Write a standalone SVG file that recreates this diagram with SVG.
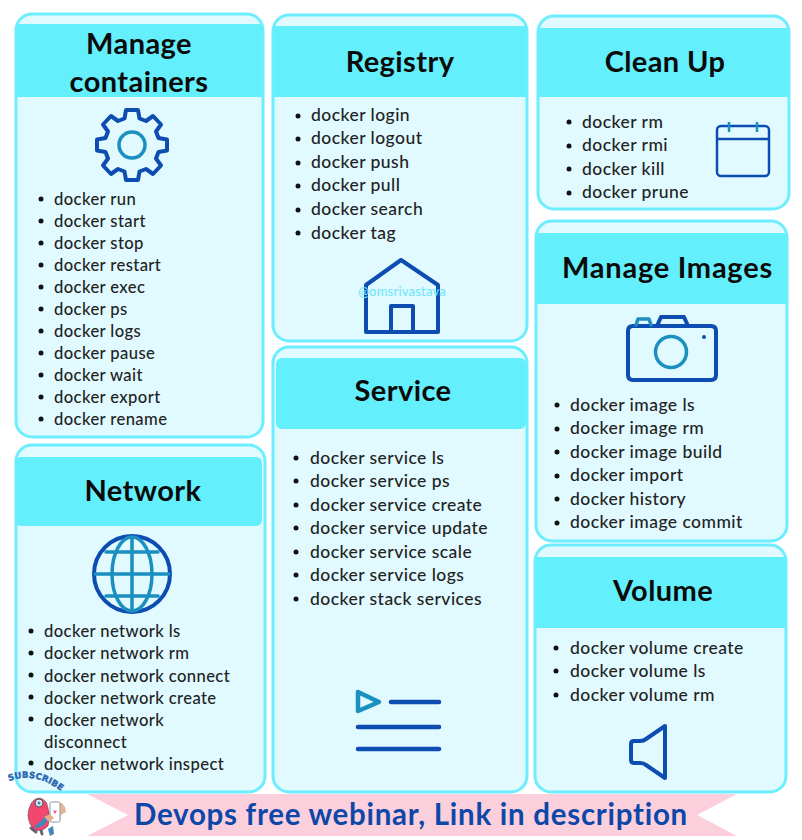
<svg xmlns="http://www.w3.org/2000/svg" xmlns:xlink="http://www.w3.org/1999/xlink" width="802" height="840" viewBox="0 0 802 840">
<style>
.p{fill:#e0faff;stroke:#6ceefe;stroke-width:3}
.h{fill:#64effc}
.t{font-family:"Lato","Liberation Sans",sans-serif;font-weight:700;font-size:29px;fill:#0b0b0b;text-anchor:middle;letter-spacing:.4px}
.l{font-family:"Lato","Liberation Sans",sans-serif;font-weight:500;font-size:17.5px;fill:#222;letter-spacing:.45px}
.s{font-family:"Lato","Liberation Sans",sans-serif;font-weight:500;font-size:16.6px;fill:#222;letter-spacing:.4px}
.b{fill:#111}
.i1{fill:none;stroke:#0d4cb0;stroke-width:4;stroke-linejoin:round;stroke-linecap:round}
.i2{fill:none;stroke:#1b8fbf;stroke-width:3.5;stroke-linejoin:round;stroke-linecap:round}
</style>
<defs><path id="arc" d="M9 781Q38 770 67 796"/></defs>
<rect width="802" height="840" fill="#fff"/>

<g id="manage-containers">
<rect class="p" x="16" y="14" width="247" height="423" rx="16"/>
<path class="h" d="M17 25Q18 24 20 24H259Q261 24 262 25V97H17Z"/>
<text class="t" x="139" y="54">Manage</text><text class="t" x="139" y="92">containers</text>
<g id="gear"><path class="i1" d="M126 110L138 110L139.500 118.500L146 121L153 116L161 124.500L156 131.500L158.500 138L167 139.500L167 150.500L158.500 152L156 158.500L161 165.500L153 174L146 169L139.500 171.500L138 180L126 180L124.500 171.500L118 169L111 174L103 165.500L108 158.500L105.500 152L97 150.500L97 139.500L105.500 138L108 131.500L103 124.500L111 116L118 121L124.500 118.500Z"/><circle class="i2" cx="132" cy="145" r="13"/></g>
<g class="s"><text x="54" y="205">docker run</text><text x="54" y="227">docker start</text><text x="54" y="249">docker stop</text><text x="54" y="271">docker restart</text><text x="54" y="293">docker exec</text><text x="54" y="315">docker ps</text><text x="54" y="337">docker logs</text><text x="54" y="359">docker pause</text><text x="54" y="381">docker wait</text><text x="54" y="403">docker export</text><text x="54" y="425">docker rename</text></g>
<g class="b"><circle cx="41" cy="199" r="2.500"/><circle cx="41" cy="221" r="2.500"/><circle cx="41" cy="243" r="2.500"/><circle cx="41" cy="265" r="2.500"/><circle cx="41" cy="287" r="2.500"/><circle cx="41" cy="309" r="2.500"/><circle cx="41" cy="331" r="2.500"/><circle cx="41" cy="353" r="2.500"/><circle cx="41" cy="375" r="2.500"/><circle cx="41" cy="397" r="2.500"/><circle cx="41" cy="419" r="2.500"/></g>
</g>

<g id="registry">
<rect class="p" x="273" y="15" width="254" height="326" rx="16"/>
<path class="h" d="M274 26H526V97H274Z"/>
<text class="t" x="400" y="72">Registry</text>
<g class="l"><text x="311" y="121">docker login</text><text x="311" y="144">docker logout</text><text x="311" y="168">docker push</text><text x="311" y="191">docker pull</text><text x="311" y="215">docker search</text><text x="311" y="239">docker tag</text></g>
<g class="b"><circle cx="298" cy="116" r="2.500"/><circle cx="298" cy="139" r="2.500"/><circle cx="298" cy="163" r="2.500"/><circle cx="298" cy="186" r="2.500"/><circle cx="298" cy="210" r="2.500"/><circle cx="298" cy="233" r="2.500"/></g>
<g id="house"><path class="i1" d="M366 285L401 260L438 285V332H366Z"/><path class="i1" d="M391 332V306H413V332"/></g>
<text x="402" y="296" font-family="Lato,'Liberation Sans',sans-serif" font-size="13" font-weight="500" fill="#70e6fb" text-anchor="middle" letter-spacing=".2">@omsrivastava</text>
</g>

<g id="clean-up">
<rect class="p" x="538" y="16" width="251" height="193" rx="16"/>
<path class="h" d="M539 28H788V97H539Z"/>
<text class="t" x="665" y="72">Clean Up</text>
<g class="l"><text x="582" y="128">docker rm</text><text x="582" y="151">docker rmi</text><text x="582" y="175">docker kill</text><text x="582" y="198">docker prune</text></g>
<g class="b"><circle cx="569" cy="122" r="2.500"/><circle cx="569" cy="146" r="2.500"/><circle cx="569" cy="169" r="2.500"/><circle cx="569" cy="193" r="2.500"/></g>
<g id="calendar"><rect x="717" y="126" width="52" height="50" rx="4" fill="none" stroke="#0d4cb0" stroke-width="2.500"/><path d="M717 139H769" fill="none" stroke="#0d4cb0" stroke-width="2.500"/><path d="M729 122V132M757 122V132" fill="none" stroke="#1b8fbf" stroke-width="2.500"/></g>
</g>

<g id="manage-images">
<rect class="p" x="536" y="221" width="251" height="320" rx="16"/>
<path class="h" d="M537 233H786V304H537Z"/>
<text class="t" x="667.500" y="278" style="letter-spacing:.75px">Manage Images</text>
<g class="l"><text x="570" y="411">docker image ls</text><text x="570" y="434">docker image rm</text><text x="570" y="458">docker image build</text><text x="570" y="481">docker import</text><text x="570" y="505">docker history</text><text x="570" y="528">docker image commit</text></g>
<g class="b"><circle cx="557" cy="405" r="2.500"/><circle cx="557" cy="429" r="2.500"/><circle cx="557" cy="452" r="2.500"/><circle cx="557" cy="476" r="2.500"/><circle cx="557" cy="499" r="2.500"/><circle cx="557" cy="523" r="2.500"/></g>
<g id="camera"><path class="i1" d="M633 326H711Q716 326 716 331V375Q716 380 711 380H633Q628 380 628 375V331Q628 326 633 326Z"/><path class="i1" d="M657 326L661 317H684L688 326"/><path class="i2" d="M636 325L638 319H649L651 325"/><circle class="i2" cx="671" cy="352" r="15.500"/><circle cx="704" cy="337" r="2" fill="#0d4cb0"/></g>
</g>

<g id="network">
<rect class="p" x="16" y="445" width="249" height="347" rx="16"/>
<rect class="h" x="15" y="457" width="247" height="69" rx="6"/>
<text class="t" x="143" y="501">Network</text>
<g id="globe"><circle cx="132" cy="574" r="38" class="i1"/><ellipse cx="132" cy="574" rx="20" ry="37" class="i2"/><path class="i2" d="M132 537V611M95 574H169M106 552H158M106 596H158"/></g>
<g class="s"><text x="44" y="637">docker network ls</text><text x="44" y="659">docker network rm</text><text x="44" y="682">docker network connect</text><text x="44" y="704">docker network create</text><text x="44" y="726">docker network</text><text x="44" y="748">disconnect</text><text x="44" y="770">docker network inspect</text></g>
<g class="b"><circle cx="31" cy="631" r="2.500"/><circle cx="31" cy="653" r="2.500"/><circle cx="31" cy="675" r="2.500"/><circle cx="31" cy="697" r="2.500"/><circle cx="31" cy="719" r="2.500"/><circle cx="31" cy="763" r="2.500"/></g>
</g>

<g id="service">
<rect class="p" x="273" y="347" width="254" height="445" rx="16"/>
<rect class="h" x="276" y="358" width="250" height="71" rx="6"/>
<text class="t" x="403" y="401">Service</text>
<g class="l"><text x="310" y="464">docker service ls</text><text x="310" y="487">docker service ps</text><text x="310" y="511">docker service create</text><text x="310" y="534">docker service update</text><text x="310" y="558">docker service scale</text><text x="310" y="581">docker service logs</text><text x="310" y="605">docker stack services</text></g>
<g class="b"><circle cx="296" cy="458" r="2.500"/><circle cx="296" cy="481" r="2.500"/><circle cx="296" cy="505" r="2.500"/><circle cx="296" cy="528" r="2.500"/><circle cx="296" cy="552" r="2.500"/><circle cx="296" cy="575" r="2.500"/><circle cx="296" cy="599" r="2.500"/></g>
<g id="list"><path d="M358 692V711L379 702Z" fill="none" stroke="#1b8fbf" stroke-width="4.500" stroke-linejoin="round"/><path d="M391 702H439M358 727H439M358 749H439" fill="none" stroke="#0d4cb0" stroke-width="4.500" stroke-linecap="round"/></g>
</g>

<g id="volume">
<rect class="p" x="535" y="545" width="251" height="247" rx="16"/>
<path class="h" d="M536 557H785V628H536Z"/>
<text class="t" x="663" y="601">Volume</text>
<g class="l"><text x="570" y="654">docker volume create</text><text x="570" y="677">docker volume ls</text><text x="570" y="701">docker volume rm</text></g>
<g class="b"><circle cx="556" cy="648" r="2.500"/><circle cx="556" cy="671" r="2.500"/><circle cx="556" cy="695" r="2.500"/></g>
<g id="speaker"><path class="i1" d="M665 726V778L646 765Q644 763 640 763H634Q631 763 631 760V744Q631 741 634 741H640Q644 741 646 739Z"/></g>
</g>

<g id="banner">
<path d="M87 794H737L697 815L737 836H87L128 815Z" fill="#fbd0dc"/>
<text x="411" y="825" font-family="Lato,'Liberation Sans',sans-serif" font-weight="700" font-size="29.500" fill="#0d47a8" text-anchor="middle" letter-spacing=".72">Devops free webinar, Link in description</text>
</g>

<g id="subscribe">
<text font-family="'DejaVu Sans',sans-serif" font-weight="700" font-size="8.500" fill="#2a6fc0" stroke="#1d4f9c" stroke-width=".4" letter-spacing=".2"><textPath href="#arc" xlink:href="#arc">SUBSCRIBE</textPath></text>
<g id="mascot">
<path d="M52 803H62L65 807L66 812L61 815L60 822H53Z" fill="#e9b39a"/>
<rect x="50" y="802" width="10" height="20" rx="1.500" fill="#fff" stroke="#8a9aa5" stroke-width="1"/>
<path d="M53 810L55 811L57 810L55 814Z" fill="#f0476f"/>
<path d="M31 828L36 832M41 830L42 834" stroke="#667" stroke-width="3" stroke-linecap="round"/>
<path d="M30 806Q33 798 40 798Q47 800 48 808Q51 818 48 826Q42 832 35 830Q28 824 28 815Q28 810 30 806Z" fill="#f2476e" stroke="#4a4048" stroke-width=".5"/>
<circle cx="39" cy="803" r="4" fill="#dfe8ee" stroke="#456" stroke-width="1"/>
<circle cx="39" cy="803" r="1.500" fill="#3f86bd"/>
<path d="M34 827L42 820L46 815L52 817L47 821L44 825L38 828Z" fill="#3f86bd"/>
<path d="M44 817L50 814L54 818L49 822Z" fill="#e9a98c"/>
<path d="M48 829L53 826L54 834L50 836Z" fill="#3f86bd"/>
</g>
</g>
</svg>
